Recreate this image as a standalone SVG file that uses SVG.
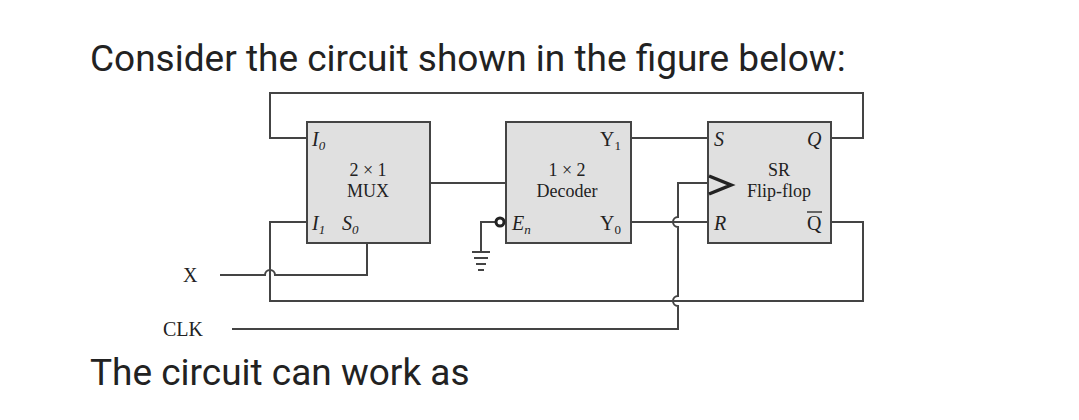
<svg xmlns="http://www.w3.org/2000/svg" width="1079" height="420" viewBox="0 0 1079 420">
<style>
.w{fill:none;stroke:#444;stroke-width:2}
.b{fill:#e0e0e0;stroke:#444;stroke-width:2}
.t{font-family:"Liberation Serif",serif;font-size:20px;fill:#222}
.c{font-size:18px}
.i{font-style:italic}
.h{font-family:Roboto,"Liberation Sans",sans-serif;font-size:37px;fill:#222}
</style>
<rect width="1079" height="420" fill="#fff"/>
<text class="h" x="90" y="71">Consider the circuit shown in the figure below:</text>
<text class="h" x="90" y="385">The circuit can work as</text>
<g id="connectors">
<path class="w" d="M307 138H270V93H863V138H831"/>
<path class="w" d="M307 222H270V301H863V222H831"/>
<path class="w" d="M220 275H265a5 5 0 0 1 10 0H367V243"/>
<path class="w" d="M430 183H506"/>
<path class="w" d="M631 138H708"/>
<path class="w" d="M631 222H708"/>
<path class="w" d="M232 329H678V306a5 5 0 0 1 0 -10V227a5 5 0 0 1 0 -10V183H712"/>
<path class="w" d="M496 222H481V252M472 252H490M474 258H488M476 264H486M478 270H484"/>
</g>
<g id="mux"><rect class="b" x="307" y="122" width="123" height="121"/>
<text class="t i" x="312" y="146">I<tspan font-size="13" dy="4">0</tspan></text>
<text class="t c" x="368" y="176" text-anchor="middle">2 × 1</text>
<text class="t c" x="368" y="197" text-anchor="middle">MUX</text>
<text class="t i" x="312" y="230">I<tspan font-size="13" dy="4">1</tspan></text>
<text class="t i" x="342" y="230">S<tspan font-size="13" dy="4">0</tspan></text></g>
<g id="decoder"><rect class="b" x="506" y="122" width="125" height="121"/>
<circle cx="500" cy="222" r="4" fill="#fff" stroke="#222" stroke-width="3"/>
<text class="t c" x="567" y="176" text-anchor="middle">1 × 2</text>
<text class="t c" x="567" y="197" text-anchor="middle">Decoder</text>
<text class="t" x="600" y="146">Y<tspan font-size="13" dy="4">1</tspan></text>
<text class="t" x="600" y="230">Y<tspan font-size="13" dy="4">0</tspan></text>
<text class="t i" x="512" y="230">E<tspan font-size="13" dy="4">n</tspan></text></g>
<g id="flipflop"><rect class="b" x="708" y="122" width="123" height="121"/>
<path d="M709 176L731 185L709 194" fill="none" stroke="#222" stroke-width="3.5"/>
<text class="t i" x="714" y="146">S</text>
<text class="t i" x="714" y="230">R</text>
<text class="t i" x="807" y="146">Q</text>
<text class="t c" x="779" y="176" text-anchor="middle">SR</text>
<text class="t c" x="779" y="197" text-anchor="middle">Flip-flop</text>
<text class="t" x="807" y="230">Q</text>
<path d="M807 212H822" stroke="#222" stroke-width="1.3"/></g>
<text class="t" x="183" y="282">X</text>
<text class="t" x="163" y="336">CLK</text>
</svg>
